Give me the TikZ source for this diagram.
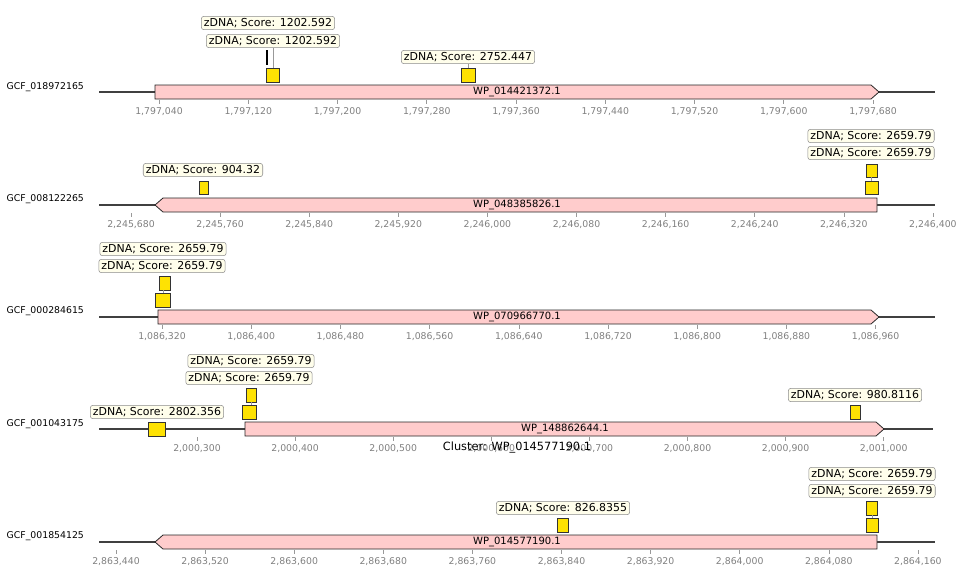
\documentclass[tikz,border=0pt]{standalone}
\usepackage{fontspec}
\setmainfont{DejaVu Sans}
\begin{document}
\begin{tikzpicture}[x=0.75pt,y=-0.75pt,
  lbl/.style={draw=black!45,fill=yellow!8,rounded corners=2pt,inner xsep=2pt,inner ysep=1.5pt,font=\fontsize{8.2}{9}\selectfont},
  site/.style={draw=black!80,fill=yellow!85!orange,line width=0.6pt},
  gene/.style={draw=black!85,fill=red!20,line width=0.6pt},
  tl/.style={font=\fontsize{7}{8}\selectfont,text=black!50},
  nm/.style={font=\fontsize{7}{8}\selectfont,anchor=west},
  bb/.style={line width=1.2pt,black!75},
  lk/.style={black!40,line width=0.4pt}]
\useasboundingbox (0,0) rectangle (964,575);
% ---------- helper macros
\newcommand{\trk}[2]{\draw[bb] (99,#1) -- (#2,#1);}
\newcommand{\tcks}[5]{% y, x0, dx, n, labels
  \foreach \l [count=\i from 0] in {#5}{
    \draw[black!40] ({#2+\i*#3},{#1+8}) -- ({#2+\i*#3},{#1+12});
    \node[tl] at ({#2+\i*#3},{#1+20}) {\l};}}
% ---------- track 1
\node[nm] (n1) at (2,87) {GCF\_018972165};
\trk{92}{935}
\draw[gene] (155,85) -- (871,85) -- (879,92) -- (871,99) -- (155,99) -- cycle;
\node[font=\fontsize{7.5}{8}\selectfont] (g1) at (517,92) {WP\_014421372.1};
\tcks{92}{159}{89.25}{9}{1{,}797{,}040,1{,}797{,}120,1{,}797{,}200,1{,}797{,}280,1{,}797{,}360,1{,}797{,}440,1{,}797{,}520,1{,}797{,}600,1{,}797{,}680}
\draw[site] (266,68) rectangle (279,82);
\draw[site] (461,68) rectangle (475,82);
\node[lbl] (a1) at (268,23) {zDNA; Score: 1202.592};
\node[lbl] (a2) at (273,41) {zDNA; Score: 1202.592};
\node[lbl] (a3) at (468,57) {zDNA; Score: 2752.447};
\draw[line width=1.2pt] (267,50) -- (267,65);
\draw[lk] (273,48) -- (273,68);
\draw[lk] (468,64) -- (468,68);
% ---------- track 2
\node[nm] (n2) at (2,199) {GCF\_008122265};
\trk{205}{935}
\draw[gene] (877,198) -- (163,198) -- (155,205) -- (163,212) -- (877,212) -- cycle;
\node[font=\fontsize{7.5}{8}\selectfont] (g2) at (517,205) {WP\_048385826.1};
\tcks{205}{131}{89.1}{10}{2{,}245{,}680,2{,}245{,}760,2{,}245{,}840,2{,}245{,}920,2{,}246{,}000,2{,}246{,}080,2{,}246{,}160,2{,}246{,}240,2{,}246{,}320,2{,}246{,}400}
\draw[site] (199,181) rectangle (208,194);
\draw[site] (865,181) rectangle (878,194);
\draw[site] (866,164) rectangle (877,177);
\node[lbl] (b1) at (203,170) {zDNA; Score: 904.32};
\node[lbl] (b2) at (871,136) {zDNA; Score: 2659.79};
\node[lbl] (b3) at (871,153) {zDNA; Score: 2659.79};
\draw[lk] (871,177) -- (871,181);
% ---------- track 3
\node[nm] (n3) at (2,311) {GCF\_000284615};
\trk{317}{935}
\draw[gene] (158,310) -- (871,310) -- (879,317) -- (871,324) -- (158,324) -- cycle;
\node[font=\fontsize{7.5}{8}\selectfont] (g3) at (517,317) {WP\_070966770.1};
\tcks{317}{162}{89.2}{9}{1{,}086{,}320,1{,}086{,}400,1{,}086{,}480,1{,}086{,}560,1{,}086{,}640,1{,}086{,}720,1{,}086{,}800,1{,}086{,}880,1{,}086{,}960}
\draw[site] (155,293) rectangle (170,307);
\draw[site] (159,276) rectangle (170,290);
\node[lbl] (c1) at (163,249) {zDNA; Score: 2659.79};
\node[lbl] (c2) at (162,266) {zDNA; Score: 2659.79};
\draw[lk] (163,290) -- (163,293);
% ---------- track 4
\node[nm] (n4) at (2,424) {GCF\_001043175};
\trk{429}{933}
\draw[gene] (245,422) -- (876,422) -- (884,429) -- (876,436) -- (245,436) -- cycle;
\node[font=\fontsize{7.5}{8}\selectfont] (g4) at (565,429) {WP\_148862644.1};
\tcks{429}{197}{98.1}{8}{2{,}000{,}300,2{,}000{,}400,2{,}000{,}500,2{,}000{,}600,2{,}000{,}700,2{,}000{,}800,2{,}000{,}900,2{,}001{,}000}
\draw[site] (148,422) rectangle (165,436);
\draw[site] (242,405) rectangle (256,419);
\draw[site] (246,388) rectangle (256,402);
\draw[site] (850,405) rectangle (860,419);
\node[lbl] (d1) at (157,412) {zDNA; Score: 2802.356};
\node[lbl] (d2) at (251,361) {zDNA; Score: 2659.79};
\node[lbl] (d3) at (249,378) {zDNA; Score: 2659.79};
\node[lbl] (d4) at (855,395) {zDNA; Score: 980.8116};
\draw[lk] (251,402) -- (251,405);
\node[font=\fontsize{8.5}{9}\selectfont] (cl) at (517,448) {Cluster: WP\_014577190.1};
% ---------- track 5
\node[nm] (n5) at (2,536) {GCF\_001854125};
\trk{542}{935}
\draw[gene] (877,535) -- (163,535) -- (155,542) -- (163,549) -- (877,549) -- cycle;
\node[font=\fontsize{7.5}{8}\selectfont] (g5) at (517,542) {WP\_014577190.1};
\tcks{542}{116}{89.1}{10}{2{,}863{,}440,2{,}863{,}520,2{,}863{,}600,2{,}863{,}680,2{,}863{,}760,2{,}863{,}840,2{,}863{,}920,2{,}864{,}000,2{,}864{,}080,2{,}864{,}160}
\draw[site] (557,518) rectangle (568,532);
\draw[site] (866,518) rectangle (878,532);
\draw[site] (866,501) rectangle (877,515);
\node[lbl] (e1) at (563,508) {zDNA; Score: 826.8355};
\node[lbl] (e2) at (872,474) {zDNA; Score: 2659.79};
\node[lbl] (e3) at (872,491) {zDNA; Score: 2659.79};
\draw[lk] (872,515) -- (872,518);
\end{tikzpicture}
\end{document}
